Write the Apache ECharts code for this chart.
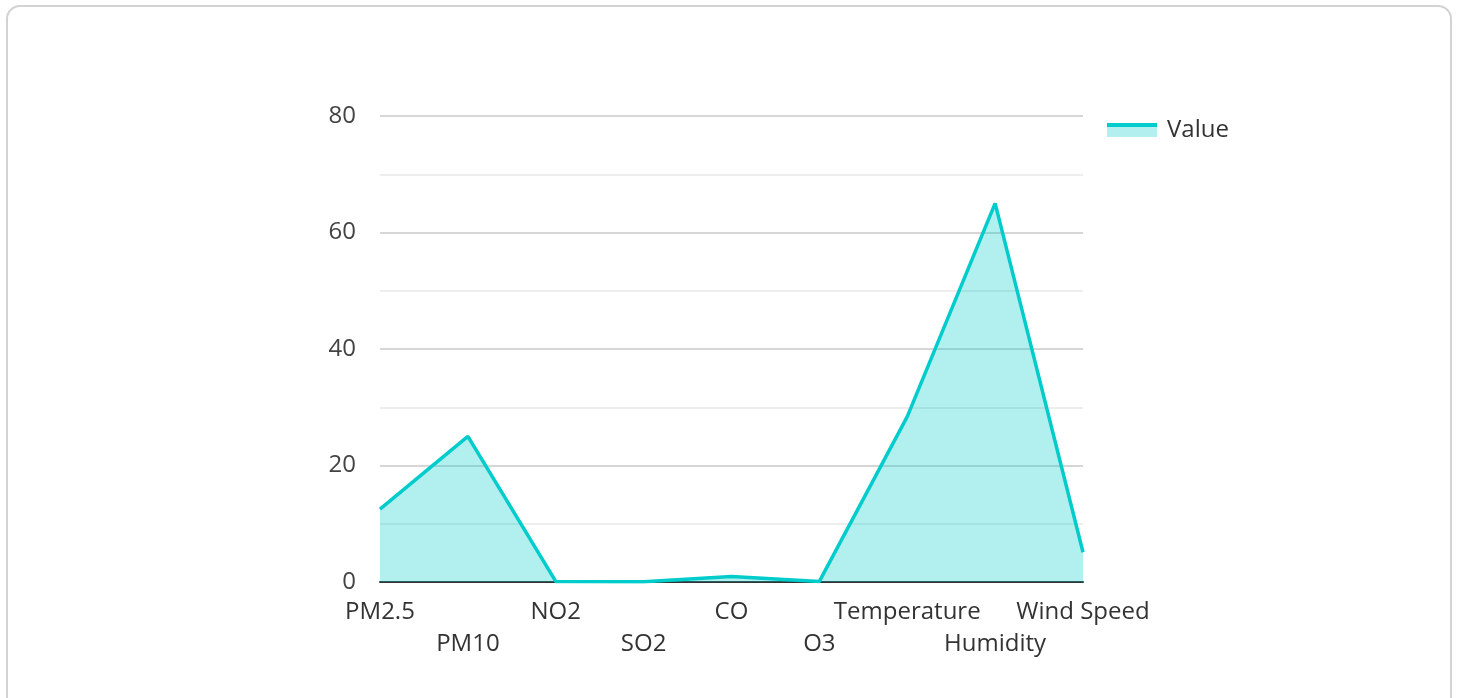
<!DOCTYPE html>
<html>
<head>
<meta charset="utf-8">
<script src="https://cdn.jsdelivr.net/npm/echarts@6/dist/echarts.min.js"></script>
<style>
  html, body { margin: 0; padding: 0; background: #fff; overflow: hidden; }
  #card { position: absolute; left: 6px; top: 5px; width: 1442px; height: 740px; border: 2px solid #d3d3d3; border-radius: 14px; box-sizing: content-box; }
  #chart { position: absolute; left: 0; top: 0; width: 1458px; height: 698px; }
</style>
</head>
<body>
<div id="card"></div>
<div id="chart"></div>
<script>
const categories = ['PM2.5', 'PM10', 'NO2', 'SO2', 'CO', 'O3', 'Temperature', 'Humidity', 'Wind Speed'];
const values = [12.5, 25.0, 0.1, 0.05, 0.95, 0.1, 28.4, 65.0, 5.1];
const seriesName = 'Value';
const yTicks = { min: 0, max: 80, interval: 20 };

const chart = echarts.init(document.getElementById('chart'), null, { renderer: 'canvas' });
const font = '"Open Sans", "Noto Sans", sans-serif';
chart.setOption({
  animation: false,
  textStyle: { fontFamily: font },
  grid: { left: 380, right: 375, top: 116, bottom: 116, containLabel: false },
  legend: {
    orient: 'vertical',
    left: 1102,
    top: 113,
    itemWidth: 50,
    itemHeight: 14,
    itemGap: 10,
    textStyle: { fontFamily: font, fontSize: 24, color: '#333', padding: [0, 0, 0, 5] },
    data: [{
      name: seriesName,
      icon: 'rect',
      itemStyle: {
        color: {
          type: 'linear', x: 0, y: 0, x2: 0, y2: 1,
          colorStops: [
            { offset: 0, color: '#00cccc' },
            { offset: 0.25, color: '#00cccc' },
            { offset: 0.25, color: '#b3efef' },
            { offset: 1, color: '#b3efef' }
          ]
        }
      }
    }]
  },
  xAxis: {
    type: 'category',
    data: categories,
    boundaryGap: false,
    axisLine: { show: true, lineStyle: { color: '#333', width: 2 } },
    axisTick: { show: false },
    splitLine: { show: false },
    axisLabel: {
      interval: 0,
      margin: 14,
      fontSize: 24,
      lineHeight: 32,
      color: '#333',
      fontFamily: font,
      formatter: function (v, i) { return i % 2 === 1 ? '\n' + v : v; }
    }
  },
  yAxis: {
    type: 'value',
    min: yTicks.min,
    max: yTicks.max,
    interval: yTicks.interval,
    axisLine: { show: false },
    axisTick: { show: false },
    axisLabel: { fontSize: 24, color: '#444', margin: 24, fontFamily: font },
    splitLine: { show: true, lineStyle: { color: '#c8c8c8', width: 1.5 } },
    minorTick: { show: false, splitNumber: 2 },
    minorSplitLine: { show: true, lineStyle: { color: '#e8e8e8', width: 1.5 } }
  },
  series: [{
    name: seriesName,
    type: 'line',
    data: values,
    showSymbol: false,
    symbol: 'none',
    lineStyle: { color: '#00cccc', width: 3.5 },
    itemStyle: { color: '#00cccc' },
    areaStyle: { color: '#00cccc', opacity: 0.3 }
  }]
});
</script>
</body>
</html>
